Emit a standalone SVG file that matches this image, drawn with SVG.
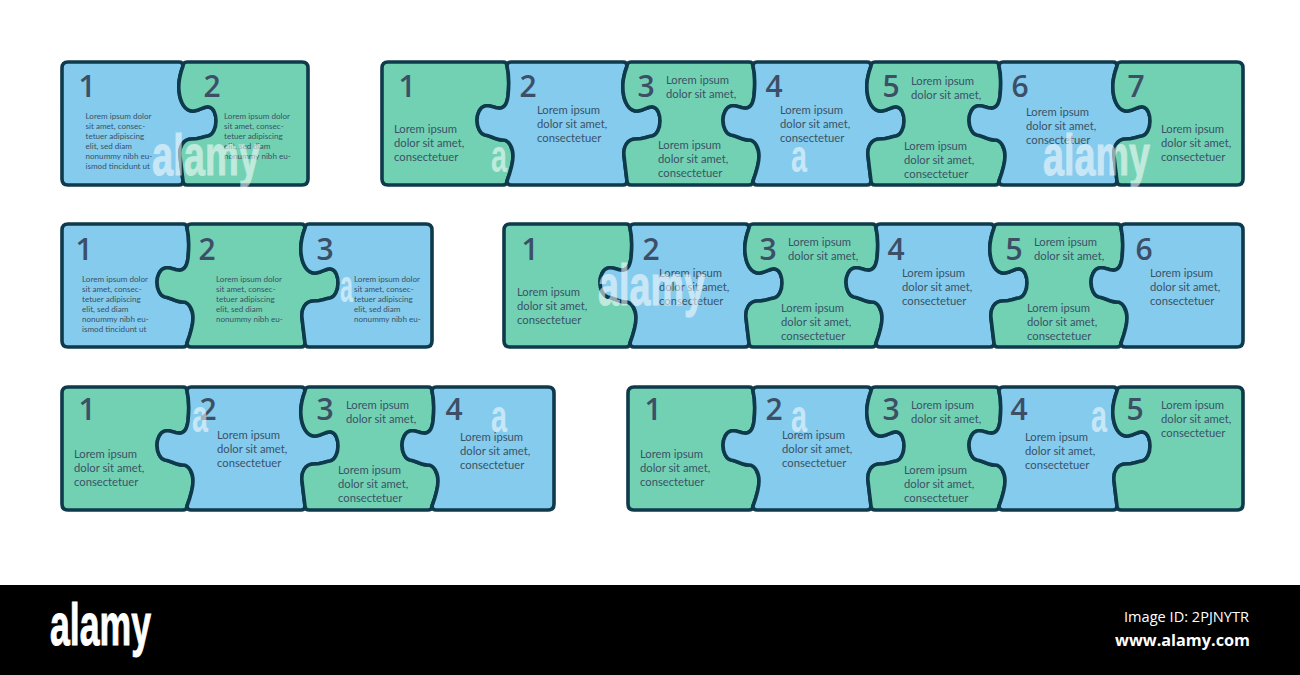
<svg xmlns="http://www.w3.org/2000/svg" width="1300" height="675" viewBox="0 0 1300 675">
<style>
.p{stroke:#0e3a4b;stroke-width:3.6;stroke-linejoin:round}
.b{fill:#84cbee}
.g{fill:#72d1b3}
text{font-family:"Lato","Open Sans",sans-serif;fill:#3b5266}
.t{font-size:11.25px}
.s{font-size:8.1px}
.n{font-family:"Open Sans",sans-serif;font-weight:600;font-size:30px;text-anchor:middle;fill:#3c4f66}
.w{font-family:"Liberation Sans Narrow","Liberation Sans",sans-serif;font-weight:700;fill:#fff}
.wm{opacity:.55;font-size:58px;stroke:#fff;stroke-width:1}
.wa{opacity:.55;font-size:46px}
.f{font-family:"Open Sans",sans-serif;fill:#fff}
</style>
<rect width="1300" height="675" fill="#fff"/>
<g id="strip-a">
<g id="a1"><path class="p b" transform="translate(0,62)" d="M68,0 H179 Q183,0 183,4 c-3,8 -5,16 -4,25 c1,11 6,21 15,20 c7,-1 10,-5 15,-4 c5,1 7,8 7,14 c0,7 -3,14 -8,15 c-6,1 -10,3 -16,3 c-9,0 -13,8 -12,17 c1,9 2,17 3,25 Q183,123 179,123 H68 Q62,123 62,117 V6 Q62,0 68,0Z"/>
<text class="n" x="87" y="97">1</text>
<text class="s"><tspan x="85.5" y="119">Lorem ipsum dolor</tspan><tspan x="85.5" y="129">sit amet, consec-</tspan><tspan x="85.5" y="139">tetuer adipiscing</tspan><tspan x="85.5" y="149">elit, sed diam</tspan><tspan x="85.5" y="159">nonummy nibh eu-</tspan><tspan x="85.5" y="169">ismod tincidunt ut</tspan></text></g>
<g id="a2"><path class="p g" transform="translate(0,62)" d="M187,0 H302 Q308,0 308,6 V117 Q308,123 302,123 H187 Q183,123 183,119 c-1,-8 -2,-16 -3,-25 c-1,-9 3,-17 12,-17 c6,0 10,-2 16,-3 c5,-1 8,-8 8,-15 c0,-6 -2,-13 -7,-14 c-5,-1 -8,3 -15,4 c-9,1 -14,-9 -15,-20 c-1,-9 1,-17 4,-25 Q183,0 187,0Z"/>
<text class="n" x="212" y="97">2</text>
<text class="s"><tspan x="224" y="119">Lorem ipsum dolor</tspan><tspan x="224" y="129">sit amet, consec-</tspan><tspan x="224" y="139">tetuer adipiscing</tspan><tspan x="224" y="149">elit, sed diam</tspan><tspan x="224" y="159">nonummy nibh eu-</tspan></text></g>
</g>
<g id="strip-g">
<g id="g1"><path class="p g" transform="translate(0,62)" d="M388,0 H503 Q507,0 507,4 c2,8 2,20 1,30 c-1,8 -4,13 -10,12 c-5,-1 -9,-3 -13,-2 c-5,1 -8,8 -8,14 c0,7 3,14 8,15 c6,1 11,5 18,5 c6,0 10,8 10,16 c0,9 -3,17 -6,25 Q507,123 503,123 H388 Q382,123 382,117 V6 Q382,0 388,0Z"/>
<text class="n" x="407" y="97">1</text>
<text class="t"><tspan x="394" y="133">Lorem ipsum</tspan><tspan x="394" y="147">dolor sit amet,</tspan><tspan x="394" y="161">consectetuer</tspan></text></g>
<g id="g2"><path class="p b" transform="translate(0,62)" d="M511,0 H623 Q627,0 627,4 c-3,8 -5,16 -4,25 c1,11 6,21 15,20 c7,-1 10,-5 15,-4 c5,1 7,8 7,14 c0,7 -3,14 -8,15 c-6,1 -10,3 -16,3 c-9,0 -13,8 -12,17 c1,9 2,17 3,25 Q627,123 623,123 H511 Q507,123 507,119 c3,-8 6,-16 6,-25 c0,-8 -4,-16 -10,-16 c-7,0 -12,-4 -18,-5 c-5,-1 -8,-8 -8,-15 c0,-6 3,-13 8,-14 c4,-1 8,1 13,2 c6,1 9,-4 10,-12 c1,-10 1,-22 -1,-30 Q507,0 511,0Z"/>
<text class="n" x="528" y="97">2</text>
<text class="t"><tspan x="537" y="114">Lorem ipsum</tspan><tspan x="537" y="128">dolor sit amet,</tspan><tspan x="537" y="142">consectetuer</tspan></text></g>
<g id="g3"><path class="p g" transform="translate(0,62)" d="M631,0 H749 Q753,0 753,4 c2,8 2,20 1,30 c-1,8 -4,13 -10,12 c-5,-1 -9,-3 -13,-2 c-5,1 -8,8 -8,14 c0,7 3,14 8,15 c6,1 11,5 18,5 c6,0 10,8 10,16 c0,9 -3,17 -6,25 Q753,123 749,123 H631 Q627,123 627,119 c-1,-8 -2,-16 -3,-25 c-1,-9 3,-17 12,-17 c6,0 10,-2 16,-3 c5,-1 8,-8 8,-15 c0,-6 -2,-13 -7,-14 c-5,-1 -8,3 -15,4 c-9,1 -14,-9 -15,-20 c-1,-9 1,-17 4,-25 Q627,0 631,0Z"/>
<text class="n" x="646" y="97">3</text>
<text class="t"><tspan x="666" y="84">Lorem ipsum</tspan><tspan x="666" y="98">dolor sit amet,</tspan></text>
<text class="t"><tspan x="658" y="149">Lorem ipsum</tspan><tspan x="658" y="163">dolor sit amet,</tspan><tspan x="658" y="177">consectetuer</tspan></text></g>
<g id="g4"><path class="p b" transform="translate(0,62)" d="M757,0 H867 Q871,0 871,4 c-3,8 -5,16 -4,25 c1,11 6,21 15,20 c7,-1 10,-5 15,-4 c5,1 7,8 7,14 c0,7 -3,14 -8,15 c-6,1 -10,3 -16,3 c-9,0 -13,8 -12,17 c1,9 2,17 3,25 Q871,123 867,123 H757 Q753,123 753,119 c3,-8 6,-16 6,-25 c0,-8 -4,-16 -10,-16 c-7,0 -12,-4 -18,-5 c-5,-1 -8,-8 -8,-15 c0,-6 3,-13 8,-14 c4,-1 8,1 13,2 c6,1 9,-4 10,-12 c1,-10 1,-22 -1,-30 Q753,0 757,0Z"/>
<text class="n" x="774" y="97">4</text>
<text class="t"><tspan x="780" y="114">Lorem ipsum</tspan><tspan x="780" y="128">dolor sit amet,</tspan><tspan x="780" y="142">consectetuer</tspan></text></g>
<g id="g5"><path class="p g" transform="translate(0,62)" d="M875,0 H995 Q999,0 999,4 c2,8 2,20 1,30 c-1,8 -4,13 -10,12 c-5,-1 -9,-3 -13,-2 c-5,1 -8,8 -8,14 c0,7 3,14 8,15 c6,1 11,5 18,5 c6,0 10,8 10,16 c0,9 -3,17 -6,25 Q999,123 995,123 H875 Q871,123 871,119 c-1,-8 -2,-16 -3,-25 c-1,-9 3,-17 12,-17 c6,0 10,-2 16,-3 c5,-1 8,-8 8,-15 c0,-6 -2,-13 -7,-14 c-5,-1 -8,3 -15,4 c-9,1 -14,-9 -15,-20 c-1,-9 1,-17 4,-25 Q871,0 875,0Z"/>
<text class="n" x="891" y="97">5</text>
<text class="t"><tspan x="911" y="85">Lorem ipsum</tspan><tspan x="911" y="99">dolor sit amet,</tspan></text>
<text class="t"><tspan x="904" y="150">Lorem ipsum</tspan><tspan x="904" y="164">dolor sit amet,</tspan><tspan x="904" y="178">consectetuer</tspan></text></g>
<g id="g6"><path class="p b" transform="translate(0,62)" d="M1003,0 H1113 Q1117,0 1117,4 c-3,8 -5,16 -4,25 c1,11 6,21 15,20 c7,-1 10,-5 15,-4 c5,1 7,8 7,14 c0,7 -3,14 -8,15 c-6,1 -10,3 -16,3 c-9,0 -13,8 -12,17 c1,9 2,17 3,25 Q1117,123 1113,123 H1003 Q999,123 999,119 c3,-8 6,-16 6,-25 c0,-8 -4,-16 -10,-16 c-7,0 -12,-4 -18,-5 c-5,-1 -8,-8 -8,-15 c0,-6 3,-13 8,-14 c4,-1 8,1 13,2 c6,1 9,-4 10,-12 c1,-10 1,-22 -1,-30 Q999,0 1003,0Z"/>
<text class="n" x="1020" y="97">6</text>
<text class="t"><tspan x="1026" y="116">Lorem ipsum</tspan><tspan x="1026" y="130">dolor sit amet,</tspan><tspan x="1026" y="144">consectetuer</tspan></text></g>
<g id="g7"><path class="p g" transform="translate(0,62)" d="M1121,0 H1237 Q1243,0 1243,6 V117 Q1243,123 1237,123 H1121 Q1117,123 1117,119 c-1,-8 -2,-16 -3,-25 c-1,-9 3,-17 12,-17 c6,0 10,-2 16,-3 c5,-1 8,-8 8,-15 c0,-6 -2,-13 -7,-14 c-5,-1 -8,3 -15,4 c-9,1 -14,-9 -15,-20 c-1,-9 1,-17 4,-25 Q1117,0 1121,0Z"/>
<text class="n" x="1136" y="97">7</text>
<text class="t"><tspan x="1161" y="133">Lorem ipsum</tspan><tspan x="1161" y="147">dolor sit amet,</tspan><tspan x="1161" y="161">consectetuer</tspan></text></g>
</g>
<g id="strip-b">
<g id="b1"><path class="p b" transform="translate(0,224)" d="M68,0 H183 Q187,0 187,4 c2,8 2,20 1,30 c-1,8 -4,13 -10,12 c-5,-1 -9,-3 -13,-2 c-5,1 -8,8 -8,14 c0,7 3,14 8,15 c6,1 11,5 18,5 c6,0 10,8 10,16 c0,9 -3,17 -6,25 Q187,123 183,123 H68 Q62,123 62,117 V6 Q62,0 68,0Z"/>
<text class="n" x="84" y="260">1</text>
<text class="s"><tspan x="82" y="282">Lorem ipsum dolor</tspan><tspan x="82" y="292">sit amet, consec-</tspan><tspan x="82" y="302">tetuer adipiscing</tspan><tspan x="82" y="312">elit, sed diam</tspan><tspan x="82" y="322">nonummy nibh eu-</tspan><tspan x="82" y="332">ismod tincidunt ut</tspan></text></g>
<g id="b2"><path class="p g" transform="translate(0,224)" d="M191,0 H301 Q305,0 305,4 c-3,8 -5,16 -4,25 c1,11 6,21 15,20 c7,-1 10,-5 15,-4 c5,1 7,8 7,14 c0,7 -3,14 -8,15 c-6,1 -10,3 -16,3 c-9,0 -13,8 -12,17 c1,9 2,17 3,25 Q305,123 301,123 H191 Q187,123 187,119 c3,-8 6,-16 6,-25 c0,-8 -4,-16 -10,-16 c-7,0 -12,-4 -18,-5 c-5,-1 -8,-8 -8,-15 c0,-6 3,-13 8,-14 c4,-1 8,1 13,2 c6,1 9,-4 10,-12 c1,-10 1,-22 -1,-30 Q187,0 191,0Z"/>
<text class="n" x="207" y="260">2</text>
<text class="s"><tspan x="216" y="282">Lorem ipsum dolor</tspan><tspan x="216" y="292">sit amet, consec-</tspan><tspan x="216" y="302">tetuer adipiscing</tspan><tspan x="216" y="312">elit, sed diam</tspan><tspan x="216" y="322">nonummy nibh eu-</tspan></text></g>
<g id="b3"><path class="p b" transform="translate(0,224)" d="M309,0 H426 Q432,0 432,6 V117 Q432,123 426,123 H309 Q305,123 305,119 c-1,-8 -2,-16 -3,-25 c-1,-9 3,-17 12,-17 c6,0 10,-2 16,-3 c5,-1 8,-8 8,-15 c0,-6 -2,-13 -7,-14 c-5,-1 -8,3 -15,4 c-9,1 -14,-9 -15,-20 c-1,-9 1,-17 4,-25 Q305,0 309,0Z"/>
<text class="n" x="325" y="260">3</text>
<text class="s"><tspan x="354" y="282">Lorem ipsum dolor</tspan><tspan x="354" y="292">sit amet, consec-</tspan><tspan x="354" y="302">tetuer adipiscing</tspan><tspan x="354" y="312">elit, sed diam</tspan><tspan x="354" y="322">nonummy nibh eu-</tspan></text></g>
</g>
<g id="strip-f">
<g id="f1"><path class="p g" transform="translate(0,224)" d="M510,0 H626 Q630,0 630,4 c2,8 2,20 1,30 c-1,8 -4,13 -10,12 c-5,-1 -9,-3 -13,-2 c-5,1 -8,8 -8,14 c0,7 3,14 8,15 c6,1 11,5 18,5 c6,0 10,8 10,16 c0,9 -3,17 -6,25 Q630,123 626,123 H510 Q504,123 504,117 V6 Q504,0 510,0Z"/>
<text class="n" x="530" y="260">1</text>
<text class="t"><tspan x="517" y="296">Lorem ipsum</tspan><tspan x="517" y="310">dolor sit amet,</tspan><tspan x="517" y="324">consectetuer</tspan></text></g>
<g id="f2"><path class="p b" transform="translate(0,224)" d="M634,0 H745 Q749,0 749,4 c-3,8 -5,16 -4,25 c1,11 6,21 15,20 c7,-1 10,-5 15,-4 c5,1 7,8 7,14 c0,7 -3,14 -8,15 c-6,1 -10,3 -16,3 c-9,0 -13,8 -12,17 c1,9 2,17 3,25 Q749,123 745,123 H634 Q630,123 630,119 c3,-8 6,-16 6,-25 c0,-8 -4,-16 -10,-16 c-7,0 -12,-4 -18,-5 c-5,-1 -8,-8 -8,-15 c0,-6 3,-13 8,-14 c4,-1 8,1 13,2 c6,1 9,-4 10,-12 c1,-10 1,-22 -1,-30 Q630,0 634,0Z"/>
<text class="n" x="651" y="260">2</text>
<text class="t"><tspan x="659" y="277">Lorem ipsum</tspan><tspan x="659" y="291">dolor sit amet,</tspan><tspan x="659" y="305">consectetuer</tspan></text></g>
<g id="f3"><path class="p g" transform="translate(0,224)" d="M753,0 H872 Q876,0 876,4 c2,8 2,20 1,30 c-1,8 -4,13 -10,12 c-5,-1 -9,-3 -13,-2 c-5,1 -8,8 -8,14 c0,7 3,14 8,15 c6,1 11,5 18,5 c6,0 10,8 10,16 c0,9 -3,17 -6,25 Q876,123 872,123 H753 Q749,123 749,119 c-1,-8 -2,-16 -3,-25 c-1,-9 3,-17 12,-17 c6,0 10,-2 16,-3 c5,-1 8,-8 8,-15 c0,-6 -2,-13 -7,-14 c-5,-1 -8,3 -15,4 c-9,1 -14,-9 -15,-20 c-1,-9 1,-17 4,-25 Q749,0 753,0Z"/>
<text class="n" x="768" y="260">3</text>
<text class="t"><tspan x="788" y="246">Lorem ipsum</tspan><tspan x="788" y="260">dolor sit amet,</tspan></text>
<text class="t"><tspan x="781" y="312">Lorem ipsum</tspan><tspan x="781" y="326">dolor sit amet,</tspan><tspan x="781" y="340">consectetuer</tspan></text></g>
<g id="f4"><path class="p b" transform="translate(0,224)" d="M880,0 H990 Q994,0 994,4 c-3,8 -5,16 -4,25 c1,11 6,21 15,20 c7,-1 10,-5 15,-4 c5,1 7,8 7,14 c0,7 -3,14 -8,15 c-6,1 -10,3 -16,3 c-9,0 -13,8 -12,17 c1,9 2,17 3,25 Q994,123 990,123 H880 Q876,123 876,119 c3,-8 6,-16 6,-25 c0,-8 -4,-16 -10,-16 c-7,0 -12,-4 -18,-5 c-5,-1 -8,-8 -8,-15 c0,-6 3,-13 8,-14 c4,-1 8,1 13,2 c6,1 9,-4 10,-12 c1,-10 1,-22 -1,-30 Q876,0 880,0Z"/>
<text class="n" x="896" y="260">4</text>
<text class="t"><tspan x="902" y="277">Lorem ipsum</tspan><tspan x="902" y="291">dolor sit amet,</tspan><tspan x="902" y="305">consectetuer</tspan></text></g>
<g id="f5"><path class="p g" transform="translate(0,224)" d="M998,0 H1117 Q1121,0 1121,4 c2,8 2,20 1,30 c-1,8 -4,13 -10,12 c-5,-1 -9,-3 -13,-2 c-5,1 -8,8 -8,14 c0,7 3,14 8,15 c6,1 11,5 18,5 c6,0 10,8 10,16 c0,9 -3,17 -6,25 Q1121,123 1117,123 H998 Q994,123 994,119 c-1,-8 -2,-16 -3,-25 c-1,-9 3,-17 12,-17 c6,0 10,-2 16,-3 c5,-1 8,-8 8,-15 c0,-6 -2,-13 -7,-14 c-5,-1 -8,3 -15,4 c-9,1 -14,-9 -15,-20 c-1,-9 1,-17 4,-25 Q994,0 998,0Z"/>
<text class="n" x="1014" y="260">5</text>
<text class="t"><tspan x="1034" y="246">Lorem ipsum</tspan><tspan x="1034" y="260">dolor sit amet,</tspan></text>
<text class="t"><tspan x="1027" y="312">Lorem ipsum</tspan><tspan x="1027" y="326">dolor sit amet,</tspan><tspan x="1027" y="340">consectetuer</tspan></text></g>
<g id="f6"><path class="p b" transform="translate(0,224)" d="M1125,0 H1237 Q1243,0 1243,6 V117 Q1243,123 1237,123 H1125 Q1121,123 1121,119 c3,-8 6,-16 6,-25 c0,-8 -4,-16 -10,-16 c-7,0 -12,-4 -18,-5 c-5,-1 -8,-8 -8,-15 c0,-6 3,-13 8,-14 c4,-1 8,1 13,2 c6,1 9,-4 10,-12 c1,-10 1,-22 -1,-30 Q1121,0 1125,0Z"/>
<text class="n" x="1144" y="260">6</text>
<text class="t"><tspan x="1150" y="277">Lorem ipsum</tspan><tspan x="1150" y="291">dolor sit amet,</tspan><tspan x="1150" y="305">consectetuer</tspan></text></g>
</g>
<g id="strip-c">
<g id="c1"><path class="p g" transform="translate(0,387)" d="M68,0 H183 Q187,0 187,4 c2,8 2,20 1,30 c-1,8 -4,13 -10,12 c-5,-1 -9,-3 -13,-2 c-5,1 -8,8 -8,14 c0,7 3,14 8,15 c6,1 11,5 18,5 c6,0 10,8 10,16 c0,9 -3,17 -6,25 Q187,123 183,123 H68 Q62,123 62,117 V6 Q62,0 68,0Z"/>
<text class="n" x="87" y="420">1</text>
<text class="t"><tspan x="74" y="458">Lorem ipsum</tspan><tspan x="74" y="472">dolor sit amet,</tspan><tspan x="74" y="486">consectetuer</tspan></text></g>
<g id="c2"><path class="p b" transform="translate(0,387)" d="M191,0 H301 Q305,0 305,4 c-3,8 -5,16 -4,25 c1,11 6,21 15,20 c7,-1 10,-5 15,-4 c5,1 7,8 7,14 c0,7 -3,14 -8,15 c-6,1 -10,3 -16,3 c-9,0 -13,8 -12,17 c1,9 2,17 3,25 Q305,123 301,123 H191 Q187,123 187,119 c3,-8 6,-16 6,-25 c0,-8 -4,-16 -10,-16 c-7,0 -12,-4 -18,-5 c-5,-1 -8,-8 -8,-15 c0,-6 3,-13 8,-14 c4,-1 8,1 13,2 c6,1 9,-4 10,-12 c1,-10 1,-22 -1,-30 Q187,0 191,0Z"/>
<text class="n" x="208" y="420">2</text>
<text class="t"><tspan x="217" y="439">Lorem ipsum</tspan><tspan x="217" y="453">dolor sit amet,</tspan><tspan x="217" y="467">consectetuer</tspan></text></g>
<g id="c3"><path class="p g" transform="translate(0,387)" d="M309,0 H428 Q432,0 432,4 c2,8 2,20 1,30 c-1,8 -4,13 -10,12 c-5,-1 -9,-3 -13,-2 c-5,1 -8,8 -8,14 c0,7 3,14 8,15 c6,1 11,5 18,5 c6,0 10,8 10,16 c0,9 -3,17 -6,25 Q432,123 428,123 H309 Q305,123 305,119 c-1,-8 -2,-16 -3,-25 c-1,-9 3,-17 12,-17 c6,0 10,-2 16,-3 c5,-1 8,-8 8,-15 c0,-6 -2,-13 -7,-14 c-5,-1 -8,3 -15,4 c-9,1 -14,-9 -15,-20 c-1,-9 1,-17 4,-25 Q305,0 309,0Z"/>
<text class="n" x="325" y="420">3</text>
<text class="t"><tspan x="346" y="409">Lorem ipsum</tspan><tspan x="346" y="423">dolor sit amet,</tspan></text>
<text class="t"><tspan x="338" y="474">Lorem ipsum</tspan><tspan x="338" y="488">dolor sit amet,</tspan><tspan x="338" y="502">consectetuer</tspan></text></g>
<g id="c4"><path class="p b" transform="translate(0,387)" d="M436,0 H548 Q554,0 554,6 V117 Q554,123 548,123 H436 Q432,123 432,119 c3,-8 6,-16 6,-25 c0,-8 -4,-16 -10,-16 c-7,0 -12,-4 -18,-5 c-5,-1 -8,-8 -8,-15 c0,-6 3,-13 8,-14 c4,-1 8,1 13,2 c6,1 9,-4 10,-12 c1,-10 1,-22 -1,-30 Q432,0 436,0Z"/>
<text class="n" x="454" y="420">4</text>
<text class="t"><tspan x="460" y="441">Lorem ipsum</tspan><tspan x="460" y="455">dolor sit amet,</tspan><tspan x="460" y="469">consectetuer</tspan></text></g>
</g>
<g id="strip-e">
<g id="e1"><path class="p g" transform="translate(0,387)" d="M634,0 H749 Q753,0 753,4 c2,8 2,20 1,30 c-1,8 -4,13 -10,12 c-5,-1 -9,-3 -13,-2 c-5,1 -8,8 -8,14 c0,7 3,14 8,15 c6,1 11,5 18,5 c6,0 10,8 10,16 c0,9 -3,17 -6,25 Q753,123 749,123 H634 Q628,123 628,117 V6 Q628,0 634,0Z"/>
<text class="n" x="653" y="420">1</text>
<text class="t"><tspan x="640" y="458">Lorem ipsum</tspan><tspan x="640" y="472">dolor sit amet,</tspan><tspan x="640" y="486">consectetuer</tspan></text></g>
<g id="e2"><path class="p b" transform="translate(0,387)" d="M757,0 H867 Q871,0 871,4 c-3,8 -5,16 -4,25 c1,11 6,21 15,20 c7,-1 10,-5 15,-4 c5,1 7,8 7,14 c0,7 -3,14 -8,15 c-6,1 -10,3 -16,3 c-9,0 -13,8 -12,17 c1,9 2,17 3,25 Q871,123 867,123 H757 Q753,123 753,119 c3,-8 6,-16 6,-25 c0,-8 -4,-16 -10,-16 c-7,0 -12,-4 -18,-5 c-5,-1 -8,-8 -8,-15 c0,-6 3,-13 8,-14 c4,-1 8,1 13,2 c6,1 9,-4 10,-12 c1,-10 1,-22 -1,-30 Q753,0 757,0Z"/>
<text class="n" x="774" y="420">2</text>
<text class="t"><tspan x="782" y="439">Lorem ipsum</tspan><tspan x="782" y="453">dolor sit amet,</tspan><tspan x="782" y="467">consectetuer</tspan></text></g>
<g id="e3"><path class="p g" transform="translate(0,387)" d="M875,0 H995 Q999,0 999,4 c2,8 2,20 1,30 c-1,8 -4,13 -10,12 c-5,-1 -9,-3 -13,-2 c-5,1 -8,8 -8,14 c0,7 3,14 8,15 c6,1 11,5 18,5 c6,0 10,8 10,16 c0,9 -3,17 -6,25 Q999,123 995,123 H875 Q871,123 871,119 c-1,-8 -2,-16 -3,-25 c-1,-9 3,-17 12,-17 c6,0 10,-2 16,-3 c5,-1 8,-8 8,-15 c0,-6 -2,-13 -7,-14 c-5,-1 -8,3 -15,4 c-9,1 -14,-9 -15,-20 c-1,-9 1,-17 4,-25 Q871,0 875,0Z"/>
<text class="n" x="891" y="420">3</text>
<text class="t"><tspan x="911" y="409">Lorem ipsum</tspan><tspan x="911" y="423">dolor sit amet,</tspan></text>
<text class="t"><tspan x="904" y="474">Lorem ipsum</tspan><tspan x="904" y="488">dolor sit amet,</tspan><tspan x="904" y="502">consectetuer</tspan></text></g>
<g id="e4"><path class="p b" transform="translate(0,387)" d="M1003,0 H1113 Q1117,0 1117,4 c-3,8 -5,16 -4,25 c1,11 6,21 15,20 c7,-1 10,-5 15,-4 c5,1 7,8 7,14 c0,7 -3,14 -8,15 c-6,1 -10,3 -16,3 c-9,0 -13,8 -12,17 c1,9 2,17 3,25 Q1117,123 1113,123 H1003 Q999,123 999,119 c3,-8 6,-16 6,-25 c0,-8 -4,-16 -10,-16 c-7,0 -12,-4 -18,-5 c-5,-1 -8,-8 -8,-15 c0,-6 3,-13 8,-14 c4,-1 8,1 13,2 c6,1 9,-4 10,-12 c1,-10 1,-22 -1,-30 Q999,0 1003,0Z"/>
<text class="n" x="1019" y="420">4</text>
<text class="t"><tspan x="1025" y="441">Lorem ipsum</tspan><tspan x="1025" y="455">dolor sit amet,</tspan><tspan x="1025" y="469">consectetuer</tspan></text></g>
<g id="e5"><path class="p g" transform="translate(0,387)" d="M1121,0 H1237 Q1243,0 1243,6 V117 Q1243,123 1237,123 H1121 Q1117,123 1117,119 c-1,-8 -2,-16 -3,-25 c-1,-9 3,-17 12,-17 c6,0 10,-2 16,-3 c5,-1 8,-8 8,-15 c0,-6 -2,-13 -7,-14 c-5,-1 -8,3 -15,4 c-9,1 -14,-9 -15,-20 c-1,-9 1,-17 4,-25 Q1117,0 1121,0Z"/>
<text class="n" x="1135" y="420">5</text>
<text class="t"><tspan x="1161" y="409">Lorem ipsum</tspan><tspan x="1161" y="423">dolor sit amet,</tspan><tspan x="1161" y="437">consectetuer</tspan></text></g>
</g>
<g id="watermarks">
<text class="w wm" x="152" y="175" textLength="108" lengthAdjust="spacingAndGlyphs">alamy</text>
<text class="w wm" x="598" y="305" textLength="107" lengthAdjust="spacingAndGlyphs">alamy</text>
<text class="w wm" x="1043" y="175" textLength="107" lengthAdjust="spacingAndGlyphs">alamy</text>
<text class="w wa" x="491" y="172" textLength="16" lengthAdjust="spacingAndGlyphs">a</text>
<text class="w wa" x="791" y="172" textLength="16" lengthAdjust="spacingAndGlyphs">a</text>
<text class="w wa" x="340" y="302" textLength="13" lengthAdjust="spacingAndGlyphs">a</text>
<text class="w wa" x="192" y="432" textLength="16" lengthAdjust="spacingAndGlyphs">a</text>
<text class="w wa" x="491" y="432" textLength="16" lengthAdjust="spacingAndGlyphs">a</text>
<text class="w wa" x="791" y="432" textLength="16" lengthAdjust="spacingAndGlyphs">a</text>
<text class="w wa" x="1091" y="432" textLength="16" lengthAdjust="spacingAndGlyphs">a</text>
</g>
<g id="footer">
<rect x="0" y="585" width="1300" height="90" fill="#000"/>
<text class="w" x="50" y="645" font-size="60" style="fill:#fff;stroke:#fff;stroke-width:1" textLength="101" lengthAdjust="spacingAndGlyphs">alamy</text>
<text class="f" x="1124" y="622" font-size="14" textLength="125" lengthAdjust="spacingAndGlyphs">Image ID: 2PJNYTR</text>
<text class="f" x="1115" y="646" font-size="15.5" font-weight="700" textLength="135" lengthAdjust="spacingAndGlyphs">www.alamy.com</text>
</g>
</svg>
